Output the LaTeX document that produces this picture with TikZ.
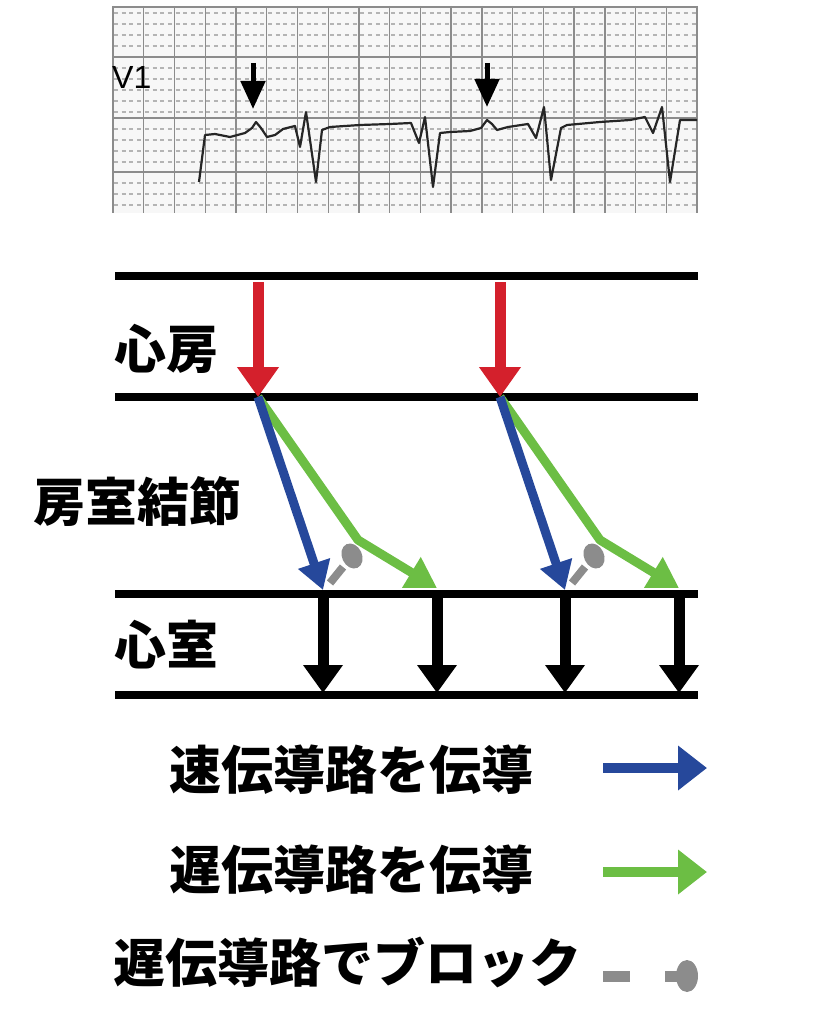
\documentclass[tikz,border=0pt]{standalone}
\usepackage{fontspec}
\newfontfamily\jpfont{Noto Sans CJK JP}
\newfontfamily\ecgfont{Liberation Sans}
\usetikzlibrary{arrows.meta}
\definecolor{atrred}{RGB}{212,32,44}
\definecolor{fastblue}{RGB}{38,72,155}
\definecolor{slowgreen}{RGB}{108,190,68}
\definecolor{blockgray}{RGB}{140,140,140}
\definecolor{gridgray}{RGB}{140,140,140}
\begin{document}
\begin{tikzpicture}[x=1pt,y=-1pt,
    level/.style={line width=8pt},
    redarrow/.style={atrred,line width=11pt,-{Triangle[width=40pt,length=30pt]}},
    fastpath/.style={fastblue,line width=9pt,-{Triangle[width=32pt,length=28pt]}},
    slowpath/.style={slowgreen,line width=9pt,line join=round,-{Triangle[width=34pt,length=30pt]}},
    ventarrow/.style={black,line width=11pt,-{Triangle[width=38pt,length=28pt]}},
    ecgarrow/.style={black,line width=5pt,-{Triangle[width=24pt,length=28pt]}},
    blockstick/.style={blockgray,line width=8pt},
    jplabel/.style={font=\jpfont\bfseries\fontsize{52}{62}\selectfont,inner sep=0pt}]
      \useasboundingbox (0,0) rectangle (823,1024);%

      % ECG strip
      \fill[gray!6] (113,6) rectangle (697,213);%
      \foreach \y in {13,24,35,46,68,79,90,101,112,129,140,151,162,183,194,205}
        \draw[gridgray!65,line width=1.4pt,dash pattern=on 4pt off 3.7pt] (114,\y) -- (697,\y);%
      \foreach \i in {0,...,19}
        \draw[gridgray,line width=1.3pt] (113+30.74*\i,6) -- (113+30.74*\i,213);%
      \foreach \y in {7,57,118,172}
        \draw[gridgray,line width=1.8pt] (113,\y) -- (697,\y);%

      \node[font=\ecgfont\fontsize{32}{36}\selectfont,anchor=west,inner sep=0pt] (lead) at (112,77) {V1};%

      \draw[black!85,line width=2.2pt,line join=round]
        (199,182) -- (205,135) -- (215,134) -- (230,137) -- (245,133) -- (252,128) -- (256,122)
        -- (261,128) -- (267,137) -- (275,135) -- (283,129) -- (295,126) -- (300,147) -- (306,112)
        -- (316,182) -- (322,130) -- (330,127) -- (360,125) -- (390,124) -- (411,123) -- (419,143)
        -- (425,117) -- (433,187) -- (440,133) -- (450,132) -- (470,131) -- (481,128) -- (487,120)
        -- (492,124) -- (497,130) -- (508,127) -- (528,124) -- (536,138) -- (544,107) -- (551,180)
        -- (561,128) -- (567,125) -- (600,122) -- (630,120) -- (645,117) -- (653,133) -- (662,107)
        -- (670,182) -- (680,120) -- (697,120);%

      \coordinate (P1top) at (253,63);%
      \coordinate (P1tip) at (253,109);%
      \coordinate (P2top) at (487,63);%
      \coordinate (P2tip) at (487,107);%
      \draw[ecgarrow] (P1top) -- (P1tip);%
      \draw[ecgarrow] (P2top) -- (P2tip);%

      % ladder levels
      \coordinate (L0l) at (115,276);%
      \coordinate (L0r) at (698,276);%
      \coordinate (L1l) at (115,397);%
      \coordinate (L1r) at (698,397);%
      \coordinate (L2l) at (115,594);%
      \coordinate (L2r) at (698,594);%
      \coordinate (L3l) at (115,695);%
      \coordinate (L3r) at (698,695);%
      \draw[level] (L0l) -- (L0r);%
      \draw[level] (L1l) -- (L1r);%
      \draw[level] (L2l) -- (L2r);%
      \draw[level] (L3l) -- (L3r);%

      \node[jplabel] (atrium) at (166,349) {心房};%
      \node[jplabel] (avnode) at (137,502) {房室結節};%
      \node[jplabel] (ventricle) at (166,645) {心室};%

      % two beats
      \foreach \dx/\n in {0/1,242/2} {
        \coordinate (A\n) at (258+\dx,282);%
        \coordinate (AV\n) at (258+\dx,397);%
        \coordinate (F\n) at (323+\dx,590);%
        \coordinate (G\n) at (358+\dx,540);%
        \coordinate (S\n) at (437+\dx,588);%
        \coordinate (K\n) at (330+\dx,583);%
        \coordinate (Kb\n) at (343+\dx,567);%
        \coordinate (B\n) at (352+\dx,556);%
        \coordinate (VF\n) at (323+\dx,598);%
        \coordinate (VFt\n) at (323+\dx,693);%
        \coordinate (VS\n) at (437+\dx,598);%
        \coordinate (VSt\n) at (437+\dx,693);%

        \draw[redarrow] (A\n) -- (AV\n);%
        \draw[slowpath] (AV\n) -- (G\n) -- (S\n);%
        \draw[fastpath] (AV\n) -- (F\n);%
        \draw[blockstick] (K\n) -- (Kb\n);%
        \fill[blockgray,rotate around={25:(B\n)}] (B\n) ellipse (10 and 13);%
        \draw[ventarrow] (VF\n) -- (VFt\n);%
        \draw[ventarrow] (VS\n) -- (VSt\n);%
      }

      % legend
      \node[jplabel] (fastlbl) at (351,770) {速伝導路を伝導};%
      \node[jplabel] (slowlbl) at (351,870) {遅伝導路を伝導};%
      \node[jplabel] (blocklbl) at (347,962) {遅伝導路でブロック};%

      \coordinate (lf1) at (603,768);%
      \coordinate (lf2) at (707,768);%
      \coordinate (ls1) at (603,872);%
      \coordinate (ls2) at (707,872);%
      \draw[fastblue,line width=10pt,-{Triangle[width=43pt,length=29pt]}] (lf1) -- (lf2);%
      \draw[slowgreen,line width=10pt,-{Triangle[width=43pt,length=29pt]}] (ls1) -- (ls2);%

      \coordinate (lb1) at (603,976);%
      \coordinate (lb2) at (630,976);%
      \coordinate (lb3) at (665,976);%
      \coordinate (lb4) at (684,976);%
      \draw[blockstick,line width=11pt] (lb1) -- (lb2);%
      \draw[blockstick,line width=11pt] (lb3) -- (lb4);%
      \fill[blockgray] (687,976) ellipse (11 and 16);%
    \end{tikzpicture}
\end{document}
